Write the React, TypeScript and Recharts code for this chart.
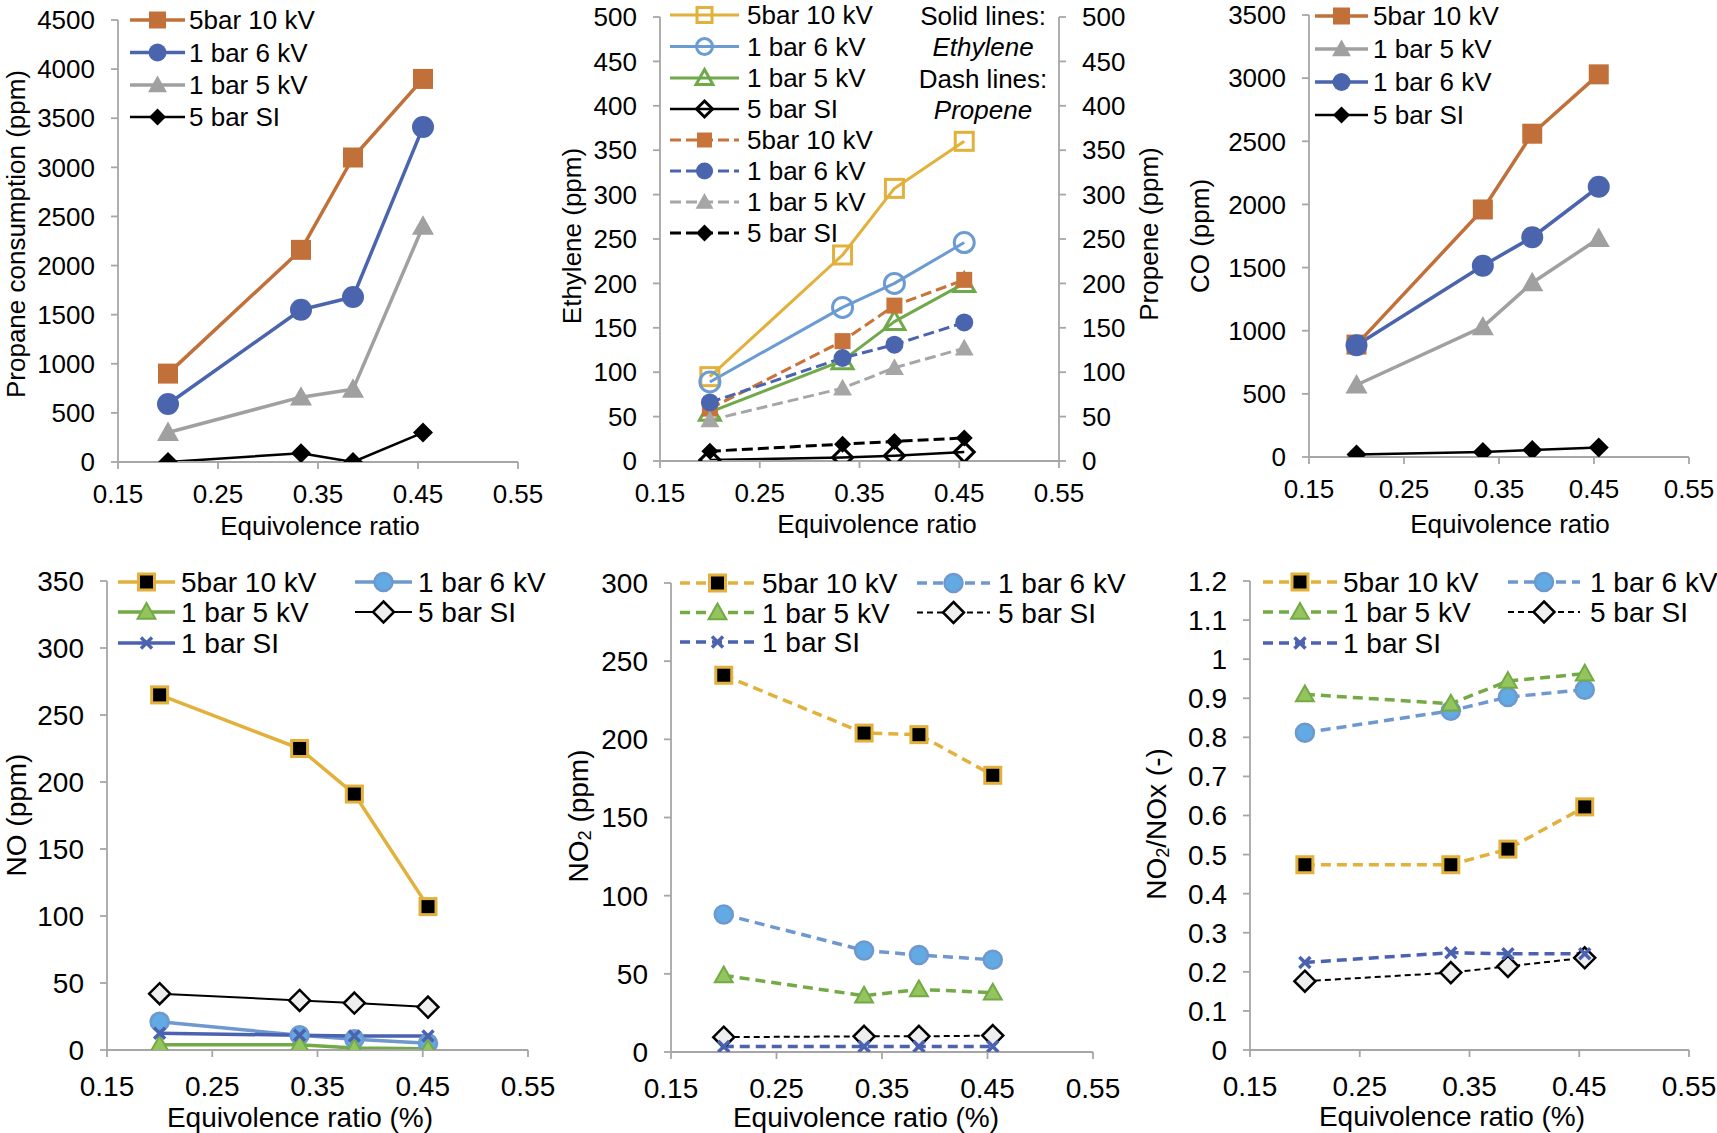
import React from 'react';
import { LineChart, Line, XAxis, YAxis, Legend } from 'recharts';

const W = 1717;
const H = 1133;
const FONT = '"Liberation Sans", Arial, Helvetica, sans-serif';
const AXIS = '#A6A6A6';

// Equivalence ratio (x) shared by every panel
const PHI = [0.2, 0.333, 0.385, 0.455];
const PHI_TICKS = [0.15, 0.25, 0.35, 0.45, 0.55];

// Propane consumption (ppm)
const PROPANE_5BAR_10KV = [900, 2160, 3100, 3900];
const PROPANE_1BAR_6KV = [590, 1550, 1680, 3410];
const PROPANE_1BAR_5KV = [300, 660, 740, 2400];
const PROPANE_5BAR_SI = [0, 90, 0, 300];
const PROPANE_TICKS = [0, 500, 1000, 1500, 2000, 2500, 3000, 3500, 4000, 4500];

// Ethylene (ppm), left axis
const ETHYLENE_5BAR_10KV = [95, 232, 307, 360];
const ETHYLENE_1BAR_6KV = [89, 173, 200, 246];
const ETHYLENE_1BAR_5KV = [55, 113, 157, 200];
const ETHYLENE_5BAR_SI = [1, 4, 6, 10];
// Propene (ppm), right axis
const PROPENE_5BAR_10KV = [59, 135, 175, 204];
const PROPENE_1BAR_6KV = [66, 116, 131, 156];
const PROPENE_1BAR_5KV = [46, 82, 105, 127];
const PROPENE_5BAR_SI = [11, 19, 22, 26];
const HC_TICKS = [0, 50, 100, 150, 200, 250, 300, 350, 400, 450, 500];

// CO (ppm)
const CO_5BAR_10KV = [890, 1960, 2560, 3030];
const CO_1BAR_5KV = [570, 1030, 1380, 1730];
const CO_1BAR_6KV = [885, 1515, 1740, 2140];
const CO_5BAR_SI = [20, 40, 55, 75];
const CO_TICKS = [0, 500, 1000, 1500, 2000, 2500, 3000, 3500];

// NO (ppm)
const NO_5BAR_10KV = [265, 225, 191, 107];
const NO_1BAR_6KV = [21, 11, 8, 5];
const NO_1BAR_5KV = [4, 4, 1.5, 1];
const NO_5BAR_SI = [42, 37, 35, 32];
const NO_1BAR_SI = [12.5, 11, 10.5, 10.5];
const NO_TICKS = [0, 50, 100, 150, 200, 250, 300, 350];

// NO2 (ppm)
const NO2_5BAR_10KV = [241, 204, 203, 177];
const NO2_1BAR_6KV = [88, 65, 62, 59];
const NO2_1BAR_5KV = [49, 36, 40, 38];
const NO2_5BAR_SI = [9.5, 10, 10, 10.5];
const NO2_1BAR_SI = [3.5, 3.5, 3.5, 3.5];
const NO2_TICKS = [0, 50, 100, 150, 200, 250, 300];

// NO2/NOx (-)
const RATIO_5BAR_10KV = [0.474, 0.474, 0.514, 0.622];
const RATIO_1BAR_6KV = [0.812, 0.868, 0.903, 0.922];
const RATIO_1BAR_5KV = [0.91, 0.886, 0.944, 0.963];
const RATIO_5BAR_SI = [0.176, 0.198, 0.214, 0.236];
const RATIO_1BAR_SI = [0.224, 0.249, 0.246, 0.246];
const RATIO_TICKS = [0, 0.1, 0.2, 0.3, 0.4, 0.5, 0.6, 0.7, 0.8, 0.9, 1, 1.1, 1.2];

type Shape = 'square' | 'circle' | 'triangle' | 'diamond' | 'cross';
interface SeriesStyle {
  color: string;
  width: number;
  dash?: string;
  shape: Shape;
  size: number;
  lsize?: number;
  fill: string;
  stroke?: string;
  sw?: number;
}

const ORANGE = '#C1703A';
const BLUE = '#4A65AE';
const GRAY = '#A0A0A0';
const GOLD = '#E2B13C';
const LBLUE = '#6A9BD3';
const GREEN = '#70A94A';
const DASH = '11 5';
const BDASH = '10 6';

const ST_5BAR_10KV: SeriesStyle = { color: ORANGE, width: 3.5, shape: 'square', size: 20, lsize: 17, fill: ORANGE };
const ST_1BAR_6KV: SeriesStyle = { color: BLUE, width: 3.5, shape: 'circle', size: 22, lsize: 18, fill: BLUE };
const ST_1BAR_5KV: SeriesStyle = { color: GRAY, width: 3.5, shape: 'triangle', size: 21, lsize: 18, fill: GRAY };
const ST_5BAR_SI: SeriesStyle = { color: '#000', width: 2.5, shape: 'diamond', size: 20, lsize: 17, fill: '#000' };

const ST_ETH_5BAR_10KV: SeriesStyle = { color: GOLD, width: 3, shape: 'square', size: 18, lsize: 15, fill: 'none', stroke: GOLD, sw: 3 };
const ST_ETH_1BAR_6KV: SeriesStyle = { color: LBLUE, width: 3, shape: 'circle', size: 20, lsize: 16, fill: 'none', stroke: LBLUE, sw: 3 };
const ST_ETH_1BAR_5KV: SeriesStyle = { color: GREEN, width: 3, shape: 'triangle', size: 20, lsize: 16, fill: 'none', stroke: GREEN, sw: 3 };
const ST_ETH_5BAR_SI: SeriesStyle = { color: '#000', width: 2.5, shape: 'diamond', size: 20, lsize: 16, fill: 'none', stroke: '#000', sw: 3 };
const ST_PRO_5BAR_10KV: SeriesStyle = { color: '#C8733A', width: 3, dash: DASH, shape: 'square', size: 16, lsize: 15, fill: '#C8733A' };
const ST_PRO_1BAR_6KV: SeriesStyle = { color: BLUE, width: 3, dash: DASH, shape: 'circle', size: 18, lsize: 17, fill: BLUE };
const ST_PRO_1BAR_5KV: SeriesStyle = { color: '#A6A6A6', width: 3, dash: DASH, shape: 'triangle', size: 18, lsize: 17, fill: '#A6A6A6' };
const ST_PRO_5BAR_SI: SeriesStyle = { color: '#000', width: 3, dash: DASH, shape: 'diamond', size: 17, lsize: 17, fill: '#000' };

const NB_5BAR_10KV: SeriesStyle = { color: GOLD, width: 3.5, shape: 'square', size: 16, fill: '#000', stroke: GOLD, sw: 3 };
const NB_1BAR_6KV: SeriesStyle = { color: '#6E98CE', width: 3.5, shape: 'circle', size: 18, fill: '#62AAE3', stroke: '#6E98CE', sw: 2.5 };
const NB_1BAR_5KV: SeriesStyle = { color: '#74AA46', width: 3.5, shape: 'triangle', size: 17, fill: '#93C45D', stroke: '#74AA46', sw: 2 };
const NB_5BAR_SI: SeriesStyle = { color: '#000', width: 2, shape: 'diamond', size: 21, fill: '#EEEEEE', stroke: '#000', sw: 2.5 };
const NB_1BAR_SI: SeriesStyle = { color: '#4A62B0', width: 3.5, shape: 'cross', size: 11, fill: 'none', stroke: '#4A62B0', sw: 3.5 };

const dashed = (s: SeriesStyle, dash: string, width?: number): SeriesStyle => ({ ...s, dash, width: width ?? s.width });

function Marker({ cx, cy, s, legend }: { cx: number; cy: number; s: SeriesStyle; legend?: boolean }) {
  if (cx == null || cy == null || Number.isNaN(cx) || Number.isNaN(cy)) return null;
  const size = legend && s.lsize ? s.lsize : s.size;
  const h = size / 2;
  const paint = { fill: s.fill, stroke: s.stroke ?? 'none', strokeWidth: s.sw ?? 0 };
  switch (s.shape) {
    case 'square':
      return <rect x={cx - h} y={cy - h} width={size} height={size} {...paint} />;
    case 'circle':
      return <circle cx={cx} cy={cy} r={h} {...paint} />;
    case 'triangle':
      return (
        <polygon
          points={`${cx},${cy - h * 1.05} ${cx + h * 1.05},${cy + h * 0.8} ${cx - h * 1.05},${cy + h * 0.8}`}
          strokeLinejoin="miter"
          {...paint}
        />
      );
    case 'diamond':
      return <polygon points={`${cx},${cy - h} ${cx + h},${cy} ${cx},${cy + h} ${cx - h},${cy}`} {...paint} />;
    case 'cross':
      return (
        <path
          d={`M${cx - h},${cy - h}L${cx + h},${cy + h}M${cx - h},${cy + h}L${cx + h},${cy - h}`}
          stroke={s.stroke}
          strokeWidth={s.sw}
          fill="none"
        />
      );
    default:
      return null;
  }
}

interface LegendItem {
  label: string;
  s: SeriesStyle;
  x0: number;
  x1: number;
  y: number;
  tx: number;
}

function LegendSvg({ items, fs, extra }: { items: LegendItem[]; fs: number; extra?: React.ReactNode }) {
  return (
    <svg width={W} height={H} style={{ position: 'absolute', left: 0, top: 0, overflow: 'visible', pointerEvents: 'none' }}>
      {items.map((it, i) => (
        <g key={i}>
          <line
            x1={it.x0}
            x2={it.x1}
            y1={it.y}
            y2={it.y}
            stroke={it.s.color}
            strokeWidth={it.s.width}
            strokeDasharray={it.s.dash}
          />
          <Marker cx={(it.x0 + it.x1) / 2} cy={it.y} s={it.s} legend />
          <text x={it.tx} y={it.y} dy="0.36em" fontSize={fs} fontFamily={FONT} fill="#000">
            {it.label}
          </text>
        </g>
      ))}
      {extra}
    </svg>
  );
}

interface SeriesDef {
  key: string;
  name: string;
  values: number[];
  style: SeriesStyle;
  axis?: 'left' | 'right';
}

interface PanelDef {
  plot: { x0: number; x1: number; y0: number; y1: number };
  fs: number;
  xTickMargin: number;
  yDomain: [number, number];
  yTicks: number[];
  series: SeriesDef[];
  xTitle: string;
  xTitlePos: [number, number];
  yTitle: React.ReactNode;
  yTitlePos: [number, number];
  rightTitle?: React.ReactNode;
  rightTitlePos?: [number, number];
  hasRight?: boolean;
  legend: LegendItem[];
  extra?: React.ReactNode;
}

const xTitleContent = (text: string, pos: [number, number], fs: number) => () => (
  <text x={pos[0]} y={pos[1]} textAnchor="middle" dominantBaseline="central" fontSize={fs} fontFamily={FONT} fill="#000">
    {text}
  </text>
);

const yTitleContent = (body: React.ReactNode, pos: [number, number], fs: number) => () => (
  <text
    x={pos[0]}
    y={pos[1]}
    transform={`rotate(-90 ${pos[0]} ${pos[1]})`}
    textAnchor="middle"
    dominantBaseline="central"
    fontSize={fs}
    fontFamily={FONT}
    fill="#000"
  >
    {body}
  </text>
);

function Panel({ def }: { def: PanelDef }) {
  const { plot, fs } = def;
  const yw = 60;
  const xh = 60;
  const rw = def.hasRight ? 60 : 0;
  const margin = {
    top: plot.y0,
    left: plot.x0 - yw,
    right: W - plot.x1 - rw,
    bottom: H - plot.y1 - xh,
  };
  const data = PHI.map((x, i) => {
    const row: Record<string, number> = { x };
    def.series.forEach((s) => {
      row[s.key] = s.values[i];
    });
    return row;
  });
  const tickStyle = { fontSize: fs, fill: '#000', fontFamily: FONT };
  const axisStroke = { stroke: AXIS, strokeWidth: 1.8 };
  return (
    <div style={{ position: 'absolute', left: 0, top: 0 }}>
      <LineChart width={W} height={H} margin={margin} data={data}>
        <XAxis
          type="number"
          dataKey="x"
          domain={[0.15, 0.55]}
          ticks={PHI_TICKS}
          interval={0}
          allowDataOverflow
          tickFormatter={(v: number) => v.toFixed(2)}
          height={xh}
          tickSize={7}
          tickMargin={def.xTickMargin}
          axisLine={axisStroke}
          tickLine={axisStroke}
          tick={tickStyle}
          label={{ content: xTitleContent(def.xTitle, def.xTitlePos, fs) }}
        />
        <YAxis
          yAxisId="left"
          type="number"
          domain={def.yDomain}
          ticks={def.yTicks}
          interval={0}
          allowDataOverflow
          width={yw}
          tickSize={7}
          tickMargin={16}
          axisLine={axisStroke}
          tickLine={axisStroke}
          tick={tickStyle}
          label={{ content: yTitleContent(def.yTitle, def.yTitlePos, fs) }}
        />
        {def.hasRight && (
          <YAxis
            yAxisId="right"
            orientation="right"
            type="number"
            domain={def.yDomain}
            ticks={def.yTicks}
            interval={0}
            allowDataOverflow
            width={rw}
            tickSize={7}
            tickMargin={16}
            axisLine={axisStroke}
            tickLine={axisStroke}
            tick={tickStyle}
            label={{ content: yTitleContent(def.rightTitle, def.rightTitlePos as [number, number], fs) }}
          />
        )}
        {def.series.map((s) => (
          <Line
            key={s.key}
            yAxisId={s.axis ?? 'left'}
            dataKey={s.key}
            name={s.name}
            type="linear"
            stroke={s.style.color}
            strokeWidth={s.style.width}
            strokeDasharray={s.style.dash}
            strokeLinejoin="round"
            dot={(p: any) => <Marker key={`${s.key}-${p.index}`} cx={p.cx} cy={p.cy} s={s.style} />}
            activeDot={false}
            isAnimationActive={false}
          />
        ))}
        <Legend
          layout="vertical"
          align="center"
          verticalAlign="middle"
          wrapperStyle={{ left: 0, top: 0, width: W, height: H, pointerEvents: 'none' }}
          content={() => <LegendSvg items={def.legend} fs={fs} extra={def.extra} />}
        />
      </LineChart>
    </div>
  );
}

const TOP_FS = 26;
const BOT_FS = 28;

const rows4 = (ys: number[], x0: number, x1: number, tx: number, entries: [string, SeriesStyle][]): LegendItem[] =>
  entries.map(([label, s], i) => ({ label, s, x0, x1, y: ys[i], tx }));

const propanePanel: PanelDef = {
  plot: { x0: 118, x1: 518, y0: 20, y1: 462 },
  fs: TOP_FS,
  xTickMargin: 16,
  yDomain: [0, 4500],
  yTicks: PROPANE_TICKS,
  series: [
    { key: 'a', name: '5bar 10 kV', values: PROPANE_5BAR_10KV, style: ST_5BAR_10KV },
    { key: 'b', name: '1 bar 6 kV', values: PROPANE_1BAR_6KV, style: ST_1BAR_6KV },
    { key: 'c', name: '1 bar 5 kV', values: PROPANE_1BAR_5KV, style: ST_1BAR_5KV },
    { key: 'd', name: '5 bar SI', values: PROPANE_5BAR_SI, style: ST_5BAR_SI },
  ],
  xTitle: 'Equivolence ratio',
  xTitlePos: [320, 526],
  yTitle: 'Propane consumption (ppm)',
  yTitlePos: [16, 234],
  legend: rows4([20, 52.5, 85, 117], 130, 185, 189, [
    ['5bar 10 kV', ST_5BAR_10KV],
    ['1 bar 6 kV', ST_1BAR_6KV],
    ['1 bar 5 kV', ST_1BAR_5KV],
    ['5 bar SI', ST_5BAR_SI],
  ]),
};

const hcPanel: PanelDef = {
  plot: { x0: 660, x1: 1059, y0: 17, y1: 461 },
  fs: TOP_FS,
  xTickMargin: 16,
  yDomain: [0, 500],
  yTicks: HC_TICKS,
  hasRight: true,
  series: [
    { key: 'a', name: '5bar 10 kV', values: ETHYLENE_5BAR_10KV, style: ST_ETH_5BAR_10KV },
    { key: 'b', name: '1 bar 6 kV', values: ETHYLENE_1BAR_6KV, style: ST_ETH_1BAR_6KV },
    { key: 'c', name: '1 bar 5 kV', values: ETHYLENE_1BAR_5KV, style: ST_ETH_1BAR_5KV },
    { key: 'd', name: '5 bar SI', values: ETHYLENE_5BAR_SI, style: ST_ETH_5BAR_SI },
    { key: 'e', name: '5bar 10 kV', values: PROPENE_5BAR_10KV, style: ST_PRO_5BAR_10KV, axis: 'right' },
    { key: 'f', name: '1 bar 6 kV', values: PROPENE_1BAR_6KV, style: ST_PRO_1BAR_6KV, axis: 'right' },
    { key: 'g', name: '1 bar 5 kV', values: PROPENE_1BAR_5KV, style: ST_PRO_1BAR_5KV, axis: 'right' },
    { key: 'h', name: '5 bar SI', values: PROPENE_5BAR_SI, style: ST_PRO_5BAR_SI, axis: 'right' },
  ],
  xTitle: 'Equivolence ratio',
  xTitlePos: [877, 524],
  yTitle: 'Ethylene (ppm)',
  yTitlePos: [572, 236],
  rightTitle: 'Propene (ppm)',
  rightTitlePos: [1149, 234],
  legend: rows4([15, 46.5, 78, 109, 140, 171, 202, 233], 670, 739, 747, [
    ['5bar 10 kV', ST_ETH_5BAR_10KV],
    ['1 bar 6 kV', ST_ETH_1BAR_6KV],
    ['1 bar 5 kV', ST_ETH_1BAR_5KV],
    ['5 bar SI', ST_ETH_5BAR_SI],
    ['5bar 10 kV', ST_PRO_5BAR_10KV],
    ['1 bar 6 kV', ST_PRO_1BAR_6KV],
    ['1 bar 5 kV', ST_PRO_1BAR_5KV],
    ['5 bar SI', ST_PRO_5BAR_SI],
  ]),
  extra: (
    <g fontFamily={FONT} fontSize={TOP_FS} textAnchor="middle" fill="#000">
      <text x={983} y={16} dy="0.36em">Solid lines:</text>
      <text x={983} y={47} dy="0.36em" fontStyle="italic">Ethylene</text>
      <text x={983} y={79} dy="0.36em">Dash lines:</text>
      <text x={983} y={110} dy="0.36em" fontStyle="italic">Propene</text>
    </g>
  ),
};

const coPanel: PanelDef = {
  plot: { x0: 1309, x1: 1689, y0: 15, y1: 457 },
  fs: TOP_FS,
  xTickMargin: 16,
  yDomain: [0, 3500],
  yTicks: CO_TICKS,
  series: [
    { key: 'a', name: '5bar 10 kV', values: CO_5BAR_10KV, style: ST_5BAR_10KV },
    { key: 'b', name: '1 bar 5 kV', values: CO_1BAR_5KV, style: ST_1BAR_5KV },
    { key: 'c', name: '1 bar 6 kV', values: CO_1BAR_6KV, style: ST_1BAR_6KV },
    { key: 'd', name: '5 bar SI', values: CO_5BAR_SI, style: ST_5BAR_SI },
  ],
  xTitle: 'Equivolence ratio',
  xTitlePos: [1510, 524],
  yTitle: 'CO (ppm)',
  yTitlePos: [1200, 236],
  legend: rows4([16, 49, 82, 115], 1315, 1368, 1373, [
    ['5bar 10 kV', ST_5BAR_10KV],
    ['1 bar 5 kV', ST_1BAR_5KV],
    ['1 bar 6 kV', ST_1BAR_6KV],
    ['5 bar SI', ST_5BAR_SI],
  ]),
};

const bottomLegend = (
  c1: [number, number, number],
  c2: [number, number, number],
  ys: [number, number, number],
  styles: SeriesStyle[],
): LegendItem[] => [
  { label: '5bar 10 kV', s: styles[0], x0: c1[0], x1: c1[1], tx: c1[2], y: ys[0] },
  { label: '1 bar 6 kV', s: styles[1], x0: c2[0], x1: c2[1], tx: c2[2], y: ys[0] },
  { label: '1 bar 5 kV', s: styles[2], x0: c1[0], x1: c1[1], tx: c1[2], y: ys[1] },
  { label: '5 bar SI', s: styles[3], x0: c2[0], x1: c2[1], tx: c2[2], y: ys[1] },
  { label: '1 bar SI', s: styles[4], x0: c1[0], x1: c1[1], tx: c1[2], y: ys[2] },
];

const NO_STYLES = [NB_5BAR_10KV, NB_1BAR_6KV, NB_1BAR_5KV, NB_5BAR_SI, NB_1BAR_SI];
const DASHED_STYLES = [
  dashed(NB_5BAR_10KV, BDASH),
  dashed(NB_1BAR_6KV, BDASH),
  dashed(NB_1BAR_5KV, BDASH),
  dashed(NB_5BAR_SI, '6 4', 2),
  dashed(NB_1BAR_SI, BDASH),
];

const bottomSeries = (vals: number[][], styles: SeriesStyle[]): SeriesDef[] =>
  ['5bar 10 kV', '1 bar 6 kV', '1 bar 5 kV', '5 bar SI', '1 bar SI'].map((name, i) => ({
    key: 'k' + i,
    name,
    values: vals[i],
    style: styles[i],
  }));

// "NO" + subscript 2 + remaining text, for the rotated axis titles
const withSub2 = (rest: string, fs: number) => {
  const shift = fs * 0.25;
  return (
    <>
      NO
      <tspan dy={shift} fontSize={fs * 0.65}>
        2
      </tspan>
      <tspan dy={-shift}>{rest}</tspan>
    </>
  );
};

const noPanel: PanelDef = {
  plot: { x0: 107, x1: 528, y0: 581, y1: 1050 },
  fs: BOT_FS,
  xTickMargin: 19,
  yDomain: [0, 350],
  yTicks: NO_TICKS,
  series: bottomSeries([NO_5BAR_10KV, NO_1BAR_6KV, NO_1BAR_5KV, NO_5BAR_SI, NO_1BAR_SI], NO_STYLES),
  xTitle: 'Equivolence ratio (%)',
  xTitlePos: [300, 1117],
  yTitle: 'NO (ppm)',
  yTitlePos: [16, 815],
  legend: bottomLegend([118, 175, 181], [355, 412, 418], [582, 612, 643], NO_STYLES),
};

const no2Panel: PanelDef = {
  plot: { x0: 671, x1: 1093, y0: 583, y1: 1052 },
  fs: BOT_FS,
  xTickMargin: 19,
  yDomain: [0, 300],
  yTicks: NO2_TICKS,
  series: bottomSeries([NO2_5BAR_10KV, NO2_1BAR_6KV, NO2_1BAR_5KV, NO2_5BAR_SI, NO2_1BAR_SI], DASHED_STYLES),
  xTitle: 'Equivolence ratio (%)',
  xTitlePos: [866, 1117],
  yTitle: withSub2(' (ppm)', BOT_FS),
  yTitlePos: [578, 816],
  legend: bottomLegend([680, 755, 762], [917, 990, 998], [583, 612.5, 642], DASHED_STYLES),
};

const ratioPanel: PanelDef = {
  plot: { x0: 1250, x1: 1689, y0: 581, y1: 1050 },
  fs: BOT_FS,
  xTickMargin: 19,
  yDomain: [0, 1.2],
  yTicks: RATIO_TICKS,
  series: bottomSeries([RATIO_5BAR_10KV, RATIO_1BAR_6KV, RATIO_1BAR_5KV, RATIO_5BAR_SI, RATIO_1BAR_SI], DASHED_STYLES),
  xTitle: 'Equivolence ratio (%)',
  xTitlePos: [1452, 1116],
  yTitle: withSub2('/NOx (-)', BOT_FS),
  yTitlePos: [1156, 824],
  legend: bottomLegend([1263, 1337, 1343], [1508, 1580, 1590], [582, 612, 643], DASHED_STYLES),
};

const PANELS = [propanePanel, hcPanel, coPanel, noPanel, no2Panel, ratioPanel];

export default function App() {
  return (
    <div style={{ position: 'absolute', left: 0, top: 0, width: W, height: H, background: '#fff', overflow: 'hidden' }}>
      {PANELS.map((p, i) => (
        <Panel key={i} def={p} />
      ))}
    </div>
  );
}
